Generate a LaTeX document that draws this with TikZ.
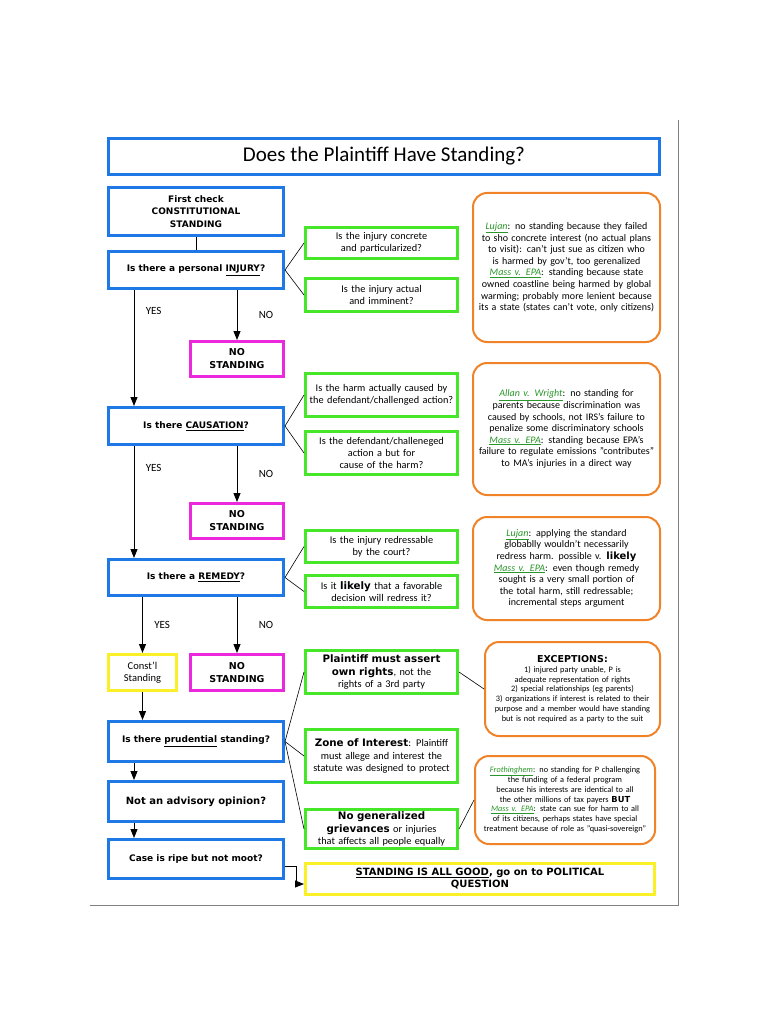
\documentclass[tikz,border=0pt]{standalone}
\usepackage{fontspec}
\setmainfont{Carlito}
\newfontfamily\qf{DejaVu Sans}
\usetikzlibrary{arrows.meta}
\definecolor{bblue}{RGB}{30,120,230}
\definecolor{ggreen}{RGB}{70,230,40}
\definecolor{mmag}{RGB}{235,40,220}
\definecolor{yyel}{RGB}{250,240,40}
\definecolor{oor}{RGB}{240,130,40}
\definecolor{lnk}{RGB}{40,150,40}
\newcommand{\cs}[1]{\textcolor{lnk}{\underline{\textit{#1}}}}
\newcommand{\qb}[1]{{\qf\bfseries #1}}
\begin{document}
\hyphenpenalty=10000 \exhyphenpenalty=10000
\begin{tikzpicture}[x=1pt,y=-1pt,
 box/.style={draw=#1,line width=3pt,fill=white,align=center,inner sep=2pt},
 q/.style={box=bblue,minimum width=175pt,font=\qf\fontsize{9}{12.5}\selectfont\bfseries},
 g/.style={box=ggreen,minimum width=152pt,text width=148pt,font=\fontsize{10.3}{12.2}\selectfont},
 ns/.style={box=mmag,minimum width=93pt,minimum height=35pt,font=\qf\fontsize{9.5}{13}\selectfont\bfseries},
 o/.style={draw=oor,line width=2pt,rounded corners=14pt,fill=white,align=center,text width=178pt,font=\fontsize{10}{11.6}\selectfont},
 ar/.style={-{Triangle[width=7pt,length=9pt]},line width=0.9pt},
 ln/.style={line width=0.6pt},
 lab/.style={font=\fontsize{11}{13}\selectfont}]
\useasboundingbox (0,0) rectangle (768,1024);
\draw[gray,line width=1pt] (678,120) -- (678,905) -- (90,905);
\node[box=bblue,minimum width=551pt,minimum height=36pt,font=\fontsize{21}{24}\selectfont] (title) at (384,156.5) {Does the Plaintiff Have Standing?};
\node[q,minimum height=48pt] (first) at (196,211.5) {First check\\CONSTITUTIONAL\\STANDING};
\node[q,minimum height=37pt] (inj) at (196,270) {Is there a personal \underline{INJURY}?};
\node[g,minimum height=31pt] (g1) at (381.5,243) {Is the injury concrete and particularized?};
\node[g,minimum height=33pt] (g2) at (381.5,295) {Is the injury actual and imminent?};
\node[ns] (ns1) at (237,359) {NO\\STANDING};
\node[q,minimum height=37pt] (cau) at (196,426) {Is there \underline{CAUSATION}?};
\node[g,minimum height=43pt] (g3) at (381.5,395) {Is the harm actually caused by the defendant/challenged action?};
\node[g,minimum height=43pt] (g4) at (381.5,453) {Is the defendant/challeneged action a but for cause of the harm?};
\node[ns] (ns2) at (237,521) {NO\\STANDING};
\node[q,minimum height=36pt] (rem) at (196,577.5) {Is there a \underline{REMEDY}?};
\node[g,minimum height=32pt] (g5) at (381.5,546.5) {Is the injury redressable by the court?};
\node[g,minimum height=32pt] (g6) at (381.5,591.5) {Is it \qb{likely} that a favorable decision will redress it?};
\node[box=yyel,minimum width=68pt,minimum height=36pt,font=\fontsize{10.5}{12.5}\selectfont] (con) at (142.5,672.5) {Const'l\\Standing};
\node[ns,minimum height=36pt] (ns3) at (237,672.5) {NO\\STANDING};
\node[q,minimum height=40pt] (pru) at (196,741.5) {Is there \underline{prudential} standing?};
\node[q,minimum height=40pt,font=\qf\fontsize{10}{12}\selectfont\bfseries] (adv) at (196,801.5) {Not an advisory opinion?};
\node[q,minimum height=39pt] (ripe) at (196,859) {Case is ripe but not moot?};
\node[g,minimum height=43pt] (g7) at (381.5,672) {\qb{Plaintiff must assert own rights}, not the rights of a 3rd party};
\node[g,minimum height=53pt] (g8) at (381.5,756) {\qb{Zone of Interest}: Plaintiff must allege and interest the statute was designed to protect};
\node[g,minimum height=39pt] (g9) at (381.5,829) {\qb{No generalized grievances} or injuries that affects all people equally};
\node[box=yyel,minimum width=349pt,minimum height=31pt,font=\qf\fontsize{10}{12}\selectfont\bfseries] (good) at (480,879) {\underline{STANDING IS ALL GOOD}, go on to POLITICAL\\QUESTION};
\node[o,minimum width=187pt,minimum height=149pt] (o1) at (566.5,267.5) {\cs{Lujan}: no standing because they failed to sho concrete interest (no actual plans to visit): can't just sue as citizen who is harmed by gov't, too gerenalized\\\cs{Mass v. EPA}: standing because state owned coastline being harmed by global warming; probably more lenient because its a state (states can't vote, only citizens)};
\node[o,minimum width=187pt,minimum height=132pt] (o2) at (566.5,429) {\cs{Allan v. Wright}: no standing for parents because discrimination was caused by schools, not IRS's failure to penalize some discriminatory schools\\\cs{Mass v. EPA}: standing because EPA's failure to regulate emissions "contributes" to MA's injuries in a direct way};
\node[o,minimum width=187pt,minimum height=103pt] (o3) at (566.5,568.5) {\cs{Lujan}: applying the standard globablly wouldn't necessarily redress harm. possible v. \qb{likely}\\\cs{Mass v. EPA}: even though remedy sought is a very small portion of the total harm, still redressable; incremental steps argument};
\node[o,text width=168pt,minimum width=175pt,minimum height=94pt,font=\fontsize{8.3}{9.8}\selectfont] (o4) at (572.5,689) {{\qf\fontsize{9.5}{12}\selectfont\bfseries EXCEPTIONS:}\\1) injured party unable, P is adequate representation of rights\\2) special relationships (eg parents)\\3) organizations if interest is related to their purpose and a member would have standing but is not required as a party to the suit};
\node[o,text width=170pt,minimum width=180pt,minimum height=88pt,font=\fontsize{8.3}{9.8}\selectfont] (o5) at (565,800) {\cs{Frothinghem}: no standing for P challenging the funding of a federal program because his interests are identical to all the other millions of tax payers \qb{BUT}\\\cs{Mass v. EPA}: state can sue for harm to all of its citizens, perhaps states have special treatment because of role as "quasi-sovereign"};
% flow
\draw[ln] (first) -- (inj);
\draw[ar] (inj.south -| 134,0) -- (cau.north -| 134,0) node[lab,pos=0.18,right=8pt] {YES};
\draw[ar] (inj.south -| ns1) -- (ns1.north) node[lab,pos=0.5,right=18pt] {NO};
\draw[ar] (cau.south -| 134,0) -- (rem.north -| 134,0) node[lab,pos=0.2,right=8pt] {YES};
\draw[ar] (cau.south -| ns2) -- (ns2.north) node[lab,pos=0.5,right=18pt] {NO};
\draw[ar] (rem.south -| con) -- (con.north) node[lab,pos=0.5,right=8pt] {YES};
\draw[ar] (rem.south -| ns3) -- (ns3.north) node[lab,pos=0.5,right=18pt] {NO};
\draw[ar] (con) -- (pru.north -| con);
\draw[ar] (pru.south -| 134,0) -- (adv.north -| 134,0);
\draw[ar] (adv.south -| 134,0) -- (ripe.north -| 134,0);
\coordinate (k) at (296,866);
\draw[ar] (ripe.east |- k) -- (k) |- (good.west |- 0,884);
% side lines
\foreach \a/\b in {inj/g1,inj/g2,cau/g3,cau/g4,rem/g5,rem/g6,pru/g7,pru/g8,pru/g9}
  \draw[ln] (\a.east) -- (\b.west);
\draw[ln] (g7.east) -- (o4.west);
\draw[ln] (g9.east) -- (o5.west);
\end{tikzpicture}
\end{document}
